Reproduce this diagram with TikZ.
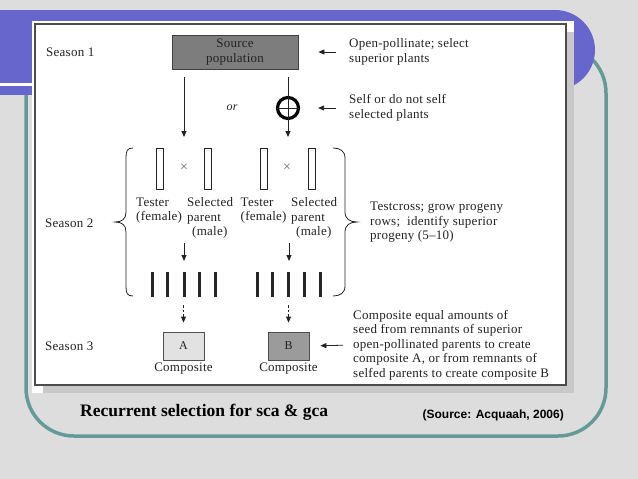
\documentclass[tikz,border=0pt]{standalone}
\usepackage{fontspec}
\setmainfont{Liberation Serif}
\newfontfamily\dfont[LetterSpace=2]{Liberation Serif}
\newfontfamily\capsans{Liberation Sans}
\usetikzlibrary{arrows.meta}
\definecolor{bgc}{RGB}{221,221,221}
\definecolor{bluec}{RGB}{102,102,204}
\definecolor{tealc}{RGB}{100,155,152}
\definecolor{shadowc}{RGB}{200,200,200}
\definecolor{inkc}{RGB}{35,35,35}
\definecolor{srcgray}{RGB}{125,125,125}
\definecolor{bgray}{RGB}{155,155,155}
\definecolor{agray}{RGB}{226,226,226}
\begin{document}
\begin{tikzpicture}[x=1pt,y=-1pt,
  dtxt/.style={font=\dfont\fontsize{13}{14.5}\selectfont, text=inkc, inner sep=0pt, align=left},
  arr/.style={draw=inkc, line width=0.8pt, -{Triangle[length=6pt,width=5pt]}},
  plainline/.style={draw=inkc, line width=0.8pt},
  darr/.style={arr, dash pattern=on 2.5pt off 2pt},
  plant/.style={draw=inkc, line width=0.7pt, minimum width=7pt, minimum height=41pt, inner sep=0pt},
  comp/.style={draw=inkc!80, line width=0.8pt, minimum width=41pt, minimum height=28pt, inner sep=0pt, font=\dfont\fontsize{12}{13}\selectfont, text=inkc},
  bar/.style={draw=black!85, line width=3pt},
  bracepath/.style={draw=inkc, line width=0.8pt},
  timesmark/.style={font=\fontsize{14}{15}\selectfont, text=inkc!70, inner sep=0pt}
]
\useasboundingbox (0,0) rectangle (638,479);
\fill[bgc] (0,0) rectangle (638,479);
% template frame
\draw[tealc, line width=3.5pt, rounded corners=48pt] (26,45) rectangle (606,436);
\fill[bluec] (0,10) -- (555,10) arc[start angle=90, end angle=-90, radius=40pt] -- (0,90) -- cycle;
\fill[white] (0,83) rectangle (32,86);
\fill[bluec] (0,86) rectangle (32,95);
% panel
\fill[white] (32,21) rectangle (574,393);
\fill[shadowc] (43,32) rectangle (574,393);
\draw[fill=white, draw=black!70, line width=1.2pt] (35,24) rectangle (566,385);

% Season 1
\node[dtxt, anchor=west] (s1) at (46,52) {Season 1};
\node[draw=black!75, line width=0.8pt, fill=srcgray, minimum width=126pt, minimum height=34pt, inner sep=0pt, dtxt, align=center] (src) at (235,52) {Source\\population};
\node[dtxt, anchor=west] (opl) at (349,52) {Open-pollinate; select\\superior plants};
\draw[arr, shorten <=13pt, shorten >=20pt] (opl.west) -- (src.east);

\node[font=\dfont\itshape\fontsize{12}{13}\selectfont, text=inkc, inner sep=0pt] (or) at (232,108) {or};
\node[circle, draw=black, line width=3.2pt, minimum size=21pt, inner sep=0pt] (selfc) at (288,108) {};
\draw[draw=inkc, line width=0.6pt] (selfc.west) -- (selfc.east);
\draw[draw=inkc, line width=0.6pt] (selfc.north) -- (selfc.south);
\node[dtxt, anchor=west] (self) at (349,108) {Self or do not self\\selected plants};
\draw[arr, shorten <=13pt, shorten >=18pt] (self.west) -- (selfc.east);

\coordinate (tipL) at (184,137);
\coordinate (tipR) at (288,137);
\draw[arr, shorten <=8pt] (src.south -| tipL) -- (tipL);
\draw[plainline, shorten <=8pt] (src.south -| tipR) -- (selfc.north);
\draw[arr] (selfc.south) -- (tipR);

% Season 2
\node[dtxt, anchor=west] (s2) at (45,223) {Season 2};
\node[plant] (t1) at (159.5,168.5) {};
\node[plant] (p1) at (208,168.5) {};
\node[plant] (t2) at (263.5,168.5) {};
\node[plant] (p2) at (312,168.5) {};
\node[timesmark] (x1) at (184,168) {×};
\node[timesmark] (x2) at (287,168) {×};
\node[dtxt, anchor=west] (lt1) at (136,210.5) {Tester\\(female)};
\node[dtxt, anchor=west] (lp1) at (187,218) {Selected\\parent\\\hspace*{5pt}(male)};
\node[dtxt, anchor=west] (lt2) at (240.5,210.5) {Tester\\(female)};
\node[dtxt, anchor=west] (lp2) at (291,218) {Selected\\parent\\\hspace*{5pt}(male)};

\draw[bracepath] (133,148) .. controls (127,148) and (126,151) .. (126,158) -- (126,212)
  .. controls (126,219) and (122,222) .. (115,222)
  .. controls (122,222) and (126,225) .. (126,232) -- (126,286)
  .. controls (126,293) and (127,296) .. (133,296);
\draw[bracepath] (333,148) .. controls (340,148) and (345,151) .. (345,158) -- (345,212)
  .. controls (345,219) and (350,222) .. (357,222)
  .. controls (350,222) and (345,225) .. (345,232) -- (345,286)
  .. controls (345,293) and (340,296) .. (333,296);

\node[dtxt, anchor=west] (tc) at (370,222.5) {Testcross; grow progeny\\rows;\ \ identify superior\\progeny (5–10)};

\coordinate (m1a) at (184,243); \coordinate (m1b) at (184,261);
\coordinate (m2a) at (289,243); \coordinate (m2b) at (289,261);
\draw[arr] (m1a) -- (m1b);
\draw[arr] (m2a) -- (m2b);

\foreach \bx in {152,167.5,184,199.5,215,257,272.5,288,304,320}
  \draw[bar] (\bx,272) -- (\bx,297);

% Season 3
\node[dtxt, anchor=west] (s3) at (45,346) {Season 3};
\node[comp, fill=agray] (boxA) at (183.5,346) {A};
\node[comp, fill=bgray] (boxB) at (288.5,346) {B};
\node[dtxt] (cA) at (183.5,369) {Composite};
\node[dtxt] (cB) at (288.5,369) {Composite};
\coordinate (dA) at (183.5,305);
\coordinate (dB) at (288.5,305);
\draw[darr, shorten >=9pt] (dA) -- (boxA.north);
\draw[darr, shorten >=9pt] (dB) -- (boxB.north);
\node[dtxt, anchor=west] (ctxt) at (353,345) {Composite equal amounts of\\seed from remnants of superior\\open-pollinated parents to create\\composite A, or from remnants of\\selfed parents to create composite B};
\draw[arr, shorten <=10pt, shorten >=11pt] (ctxt.west) -- (boxB.east);

% captions
\node[font=\fontsize{17.5}{20}\selectfont\bfseries, text=black, inner sep=0pt, anchor=west] (cap) at (80,412) {Recurrent selection for sca \& gca};
\node[font=\capsans\fontsize{12}{14}\selectfont\bfseries, text=black, inner sep=0pt, anchor=east] (srcref) at (564,415) {(Source: Acquaah, 2006)};
\end{tikzpicture}
\end{document}
